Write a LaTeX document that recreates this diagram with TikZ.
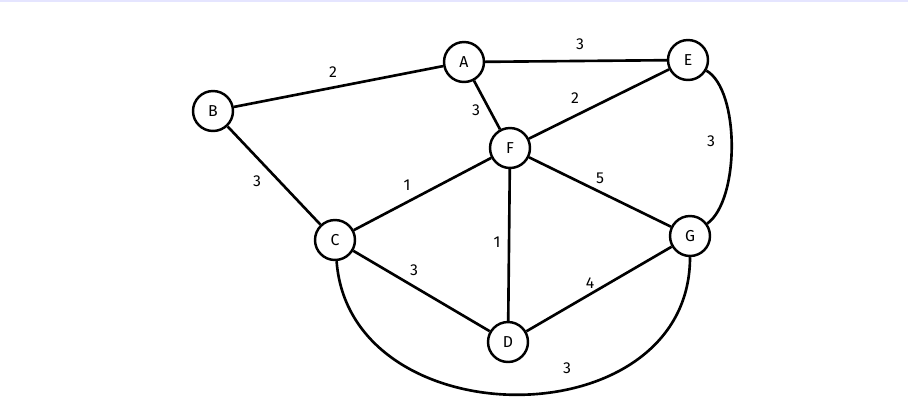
\documentclass[tikz,border=0pt]{standalone}
\usepackage{fontspec}
\setmainfont{Fira Sans}
\begin{document}
\begin{tikzpicture}[x=0.02cm,y=-0.02cm,
  vert/.style={circle,draw,line width=1.4pt,minimum size=0.8cm,inner sep=0pt,fill=white,font=\small},
  edge/.style={line width=1.5pt},
  wt/.style={font=\small}]
\useasboundingbox (0,0) rectangle (908,414);
\draw[blue!10,line width=1pt] (0,1) -- (908,1);
\node[vert] (A) at (464,62) {A};
\node[vert] (E) at (688,60) {E};
\node[vert] (B) at (213,111) {B};
\node[vert] (F) at (510,148) {F};
\node[vert] (C) at (335,240) {C};
\node[vert] (G) at (690,236) {G};
\node[vert] (D) at (508,342) {D};
\begin{scope}[on background layer/.style={}]
\draw[edge] (B) -- (A);
\draw[edge] (A) -- (E);
\draw[edge] (A) -- (F);
\draw[edge] (F) -- (E);
\draw[edge] (E) .. controls (740,90) and (740,200) .. (G);
\draw[edge] (B) -- (C);
\draw[edge] (C) -- (F);
\draw[edge] (F) -- (G);
\draw[edge] (F) -- (D);
\draw[edge] (C) -- (D);
\draw[edge] (D) -- (G);
\draw[edge] (C) .. controls (350,440) and (690,440) .. (G);
\end{scope}
\node[wt] (w1) at (333,72) {2};
\node[wt] (w2) at (580,44) {3};
\node[wt] (w3) at (476,110) {3};
\node[wt] (w4) at (575,98) {2};
\node[wt] (w5) at (711,141) {3};
\node[wt] (w6) at (257,181) {3};
\node[wt] (w7) at (407,185) {1};
\node[wt] (w8) at (600,178) {5};
\node[wt] (w9) at (497,242) {1};
\node[wt] (w10) at (414,270) {3};
\node[wt] (w11) at (590,283) {4};
\node[wt] (w12) at (567,368) {3};
\end{tikzpicture}
\end{document}
